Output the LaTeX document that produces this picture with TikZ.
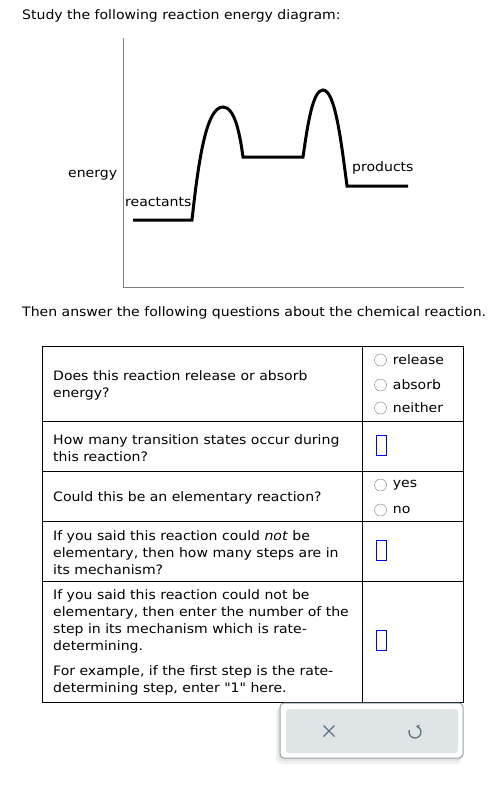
\documentclass[tikz,border=0pt]{standalone}
\usepackage{fontspec}
\setmainfont{DejaVu Sans}[FakeStretch=1.08, Ligatures=TeXOff]
\usetikzlibrary{positioning, arrows.meta, calc}
\definecolor{axisgray}{HTML}{808080}
\definecolor{radiogray}{HTML}{7A7A7A}
\definecolor{boxblue}{HTML}{0000FF}
\definecolor{panelfill}{HTML}{DFE5E7}
\definecolor{panelline}{HTML}{8FA3AB}
\definecolor{icongray}{HTML}{5A7380}
\tikzset{
  txt/.style={font=\fontsize{13}{17}\selectfont, inner sep=0pt, anchor=west, align=left},
  radio/.style={circle, draw=radiogray, minimum size=12pt, inner sep=0pt},
  ansbox/.style={draw=boxblue, minimum width=10pt, minimum height=20pt, inner sep=0pt},
  curve/.style={line width=3pt},
}

\begin{document}
\begin{tikzpicture}[x=1pt,y=-1pt]
\useasboundingbox (0,0) rectangle (499,796);

\node[txt] (study) at (22,16) {Study the following reaction energy diagram:};

% energy diagram
\draw[axisgray, line width=1pt] (123,38) -- (123,287) -- (464,287);
\node[txt] (energy) at (68,175) {energy};
\node[txt] (reac) at (125,202) {reactants};
\node[txt] (prod) at (352,168) {products};
\draw[curve] (133,220) -- (192,220)
      .. controls (199,155) and (207,107) .. (223,107)
      .. controls (235,107) and (240,135) .. (243,157)
      -- (303,157)
      .. controls (308,122) and (313,90) .. (323,90)
      .. controls (335,90) and (341,140) .. (347,186)
      -- (408,186);

\node[txt] (then) at (22,313) {Then answer the following questions about the chemical reaction.};

% table
\draw[line width=1pt] (42,346) rectangle (463,702);
\draw[line width=1pt] (362,346) -- (362,702);
\foreach \yy in {421,471,521,581}
  \draw[line width=1pt] (42,\yy) -- (463,\yy);

\node[txt] (q1) at (53,385) {Does this reaction release or absorb\\energy?};
\node[radio] (rel) at (380.5,360) {};
\node[radio] (abs) at (380.5,385) {};
\node[radio] (nei) at (380.5,408) {};
\node[txt, right=6pt of rel] (trel) {release};
\node[txt, right=6pt of abs] (tabs) {absorb};
\node[txt, right=6pt of nei] (tnei) {neither};

\node[txt] (q2) at (53,448) {How many transition states occur during\\this reaction?};
\node[ansbox] (a2) at (381,445.5) {};

\node[txt] (q3) at (53,497.5) {Could this be an elementary reaction?};
\node[radio] (yes) at (380.5,485) {};
\node[radio] (no) at (380.5,510) {};
\node[txt, right=6pt of yes] (tyes) {yes};
\node[txt, right=6pt of no] (tno) {no};

\node[txt] (q4) at (53,552.5) {If you said this reaction could \textit{not} be\\elementary, then how many steps are in\\its mechanism?};
\node[ansbox] (a4) at (381,550) {};

\node[txt] (q5) at (53,621) {If you said this reaction could not be\\elementary, then enter the number of the\\step in its mechanism which is rate-\\determining.};
\node[txt] (q5b) at (53,680.5) {For example, if the first step is the rate-\\determining step, enter "1" here.};
\node[ansbox] (a5) at (381,640.5) {};

% buttons
\fill[black, opacity=0.06, rounded corners=5pt] (276,707) rectangle (461,764);
\fill[black, opacity=0.06, rounded corners=5pt] (278,705) rectangle (462,761);
\draw[panelline, fill=white, line width=1pt, rounded corners=4pt] (280,703) rectangle (463,758);
\fill[panelfill, rounded corners=3pt] (286,709) rectangle (458,753);
\coordinate (xc) at (329,731);
\coordinate (uc) at (415,732);
\draw[icongray, line width=1.3pt] ($(xc)+(-5.5,-5.5)$) -- ($(xc)+(5.5,5.5)$)
      ($(xc)+(-5.5,5.5)$) -- ($(xc)+(5.5,-5.5)$);
\draw[icongray, line width=1.3pt, -{Stealth[length=3.5pt,width=4.5pt]}]
      ($(uc)+(-160:6)$) arc[start angle=-160, end angle=-440, radius=6];
\end{tikzpicture}
\end{document}
